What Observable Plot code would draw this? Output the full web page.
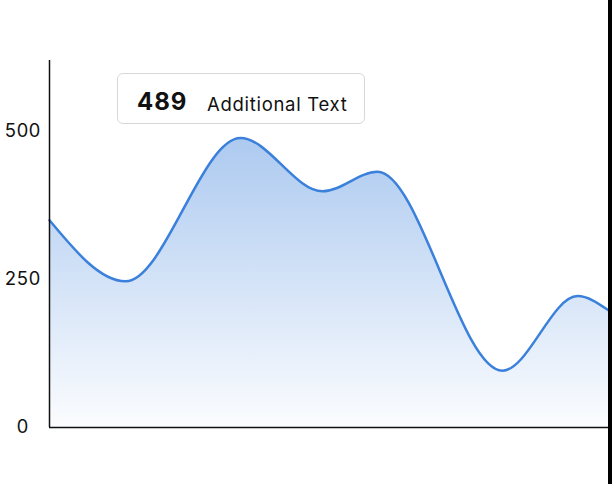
<!DOCTYPE html>
<html>
<head>
<meta charset="utf-8">
<script src="https://cdn.jsdelivr.net/npm/d3@7"></script>
<script src="https://cdn.jsdelivr.net/npm/@observablehq/plot@0.6"></script>
<style>
  html, body { margin: 0; padding: 0; background: #000; width: 612px; height: 484px; overflow: hidden; }
  #wrap { position: relative; width: 608px; height: 484px; background: #fff; }
  #tip {
    position: absolute; left: 117px; top: 73px; width: 246px; height: 49px;
    border: 1.5px solid #d8d8d8; border-radius: 6px; background: #fff;
    font-family: Inter, "Noto Sans", sans-serif; color: #111;
    box-sizing: content-box;
  }
  #tip .v { position: absolute; left: 19px; top: 13px; font-size: 24px; font-weight: 700; letter-spacing: 1px; }
  #tip .l { position: absolute; left: 89px; top: 18.5px; font-size: 18.5px; font-weight: 400; letter-spacing: 0.7px; }
</style>
</head>
<body>
<div id="wrap"></div>
<script>
// Data
const positions = [0, 76, 191, 273, 328, 453, 528, 559];
const values = [350, 247, 489, 399, 432, 96, 222, 198];
const yTicks = [0, 250, 500];
const tipLabel = "Additional Text";

const data = positions.map((p, i) => ({p, v: values[i]}));
const lineColor = "#3b80db";

const defs = () => {
  const ns = "http://www.w3.org/2000/svg";
  const d = document.createElementNS(ns, "defs");
  const g = document.createElementNS(ns, "linearGradient");
  g.setAttribute("id", "areaGrad");
  g.setAttribute("x1", "0"); g.setAttribute("y1", "0");
  g.setAttribute("x2", "0"); g.setAttribute("y2", "1");
  [["0%", 0.42], ["100%", 0.02]].forEach(([o, a]) => {
    const s = document.createElementNS(ns, "stop");
    s.setAttribute("offset", o);
    s.setAttribute("stop-color", lineColor);
    s.setAttribute("stop-opacity", a);
    g.appendChild(s);
  });
  d.appendChild(g);
  return d;
};

const chart = Plot.plot({
  width: 608,
  height: 484,
  marginLeft: 49,
  marginRight: 0,
  marginTop: 60,
  marginBottom: 57,
  style: {background: "#fff", fontFamily: "Inter, sans-serif", fontSize: "18.5px", color: "#111"},
  x: {domain: [0, 559], axis: null},
  y: {domain: [0, 620], ticks: yTicks, tickSize: 0, tickPadding: 27, label: null},
  marks: [
    defs,
    Plot.areaY(data, {x: "p", y: "v", curve: "monotone-x", fill: "url(#areaGrad)"}),
    Plot.lineY(data, {x: "p", y: "v", curve: "monotone-x", stroke: lineColor, strokeWidth: 2.5}),
    Plot.axisY({ticks: yTicks, tickSize: 0, tickPadding: 27, textAnchor: "middle", label: null, fontSize: 18.5}),
    Plot.ruleX([0], {stroke: "#111", strokeWidth: 1.5}),
    Plot.ruleY([0], {stroke: "#111", strokeWidth: 1.5})
  ]
});

const wrap = document.getElementById("wrap");
wrap.appendChild(chart);
const tip = document.createElement("div");
tip.id = "tip";
tip.innerHTML = `<span class="v">${d3.max(values)}</span><span class="l">${tipLabel}</span>`;
wrap.appendChild(tip);
</script>
</body>
</html>
